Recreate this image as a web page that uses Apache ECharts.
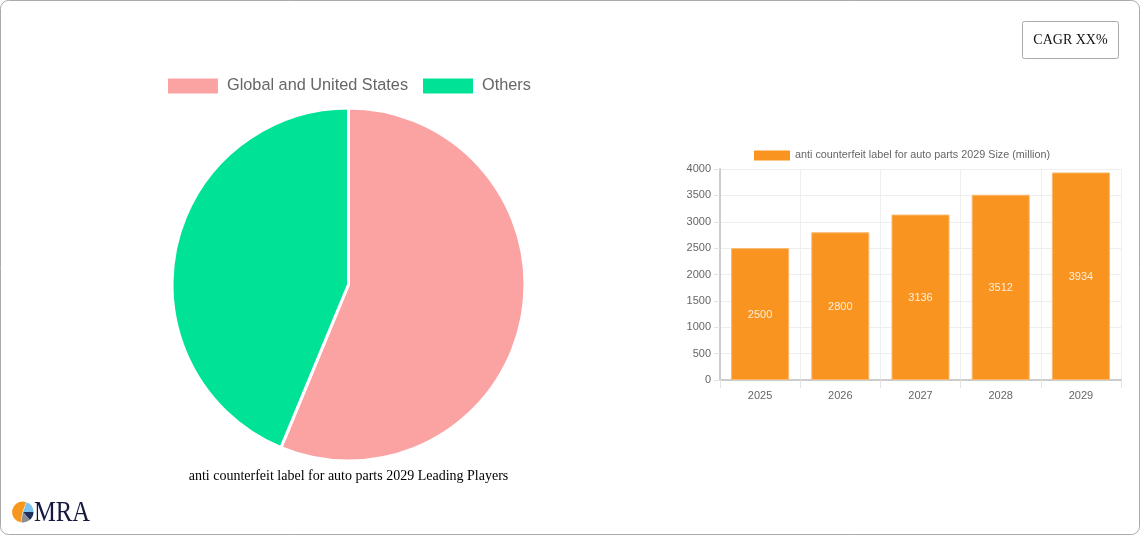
<!DOCTYPE html>
<html>
<head>
<meta charset="utf-8">
<style>
  html, body { margin: 0; padding: 0; background: #fff; }
  #main { width: 1140px; height: 535px; }
</style>
<script src="https://cdn.jsdelivr.net/npm/echarts@6/dist/echarts.min.js"></script>
</head>
<body>
<div id="main"></div>
<script>
const pieNames = ['Global and United States', 'Others'];
const pieValues = [56.25, 43.75];
const years = ['2025', '2026', '2027', '2028', '2029'];
const sizes = [2500, 2800, 3136, 3512, 3934];
const barName = 'anti counterfeit label for auto parts 2029 Size (million)';
const pieTitle = 'anti counterfeit label for auto parts 2029 Leading Players';

const chart = echarts.init(document.getElementById('main'), null, { renderer: 'canvas' });
const sans = '"Liberation Sans", Arial, sans-serif';
const serif = '"Liberation Serif", "Times New Roman", serif';
const rad = d => d * Math.PI / 180;

// small logo wedge, bottom left
function logoSector(from, to, color, cx, cy) {
  return {
    type: 'sector',
    shape: { cx: cx, cy: cy, r: 10.5, startAngle: rad(from), endAngle: rad(to) },
    style: { fill: color }
  };
}

chart.setOption({
  animation: false,
  title: {
    text: pieTitle,
    left: 348.5,
    top: 469,
    padding: 0,
    textAlign: 'center',
    textStyle: { fontFamily: serif, fontSize: 14, fontWeight: 'normal', color: '#000' }
  },
  legend: [
    {
      data: pieNames,
      left: 168,
      top: 78,
      padding: 0,
      icon: 'rect',
      itemWidth: 50,
      itemHeight: 15,
      itemGap: 15,
      itemStyle: { borderWidth: 0 },
      textStyle: { fontFamily: sans, fontSize: 16.3, color: '#666', padding: [0, 0, 0, 4] }
    },
    {
      data: [barName],
      left: 754,
      top: 150,
      padding: 0,
      icon: 'rect',
      itemWidth: 36,
      itemHeight: 10,
      itemStyle: { borderWidth: 0 },
      textStyle: { fontFamily: sans, fontSize: 10.8, color: '#666', padding: [4, 0, 0, 0] }
    }
  ],
  grid: { left: 720, top: 169, width: 401, height: 211 },
  xAxis: {
    type: 'category',
    data: years,
    axisLine: { lineStyle: { color: '#ccc', width: 2 } },
    axisTick: { show: true, length: 8, lineStyle: { color: '#e4e4e4' } },
    axisLabel: { fontFamily: sans, fontSize: 11, color: '#666', margin: 10 },
    splitLine: { show: true, lineStyle: { color: '#eee' } }
  },
  yAxis: {
    type: 'value',
    min: 0,
    max: 4000,
    interval: 500,
    axisLine: { show: true, lineStyle: { color: '#ccc', width: 2 } },
    axisTick: { show: true, length: 6, lineStyle: { color: '#e4e4e4' } },
    axisLabel: {
      fontFamily: sans,
      fontSize: 11,
      color: '#666',
      margin: 9,
      padding: [4, 0, 0, 0],
      formatter: v => String(v)
    },
    splitLine: { show: true, lineStyle: { color: '#eee' } }
  },
  series: [
    {
      type: 'pie',
      center: [348.5, 284.5],
      radius: [0, 176.5],
      startAngle: 90,
      clockwise: true,
      label: { show: false },
      labelLine: { show: false },
      itemStyle: { borderColor: '#fff', borderWidth: 3 },
      color: ['#fba3a3', '#00e396'],
      data: pieNames.map((n, i) => ({ name: n, value: pieValues[i] }))
    },
    {
      type: 'bar',
      name: barName,
      data: sizes,
      barWidth: 58,
      itemStyle: { color: '#f99420', borderColor: '#fbb76a', borderWidth: 1 },
      label: {
        show: true,
        position: 'inside',
        offset: [0, 1],
        fontFamily: sans,
        fontSize: 11,
        color: '#ffeedd'
      }
    }
  ],
  graphic: [
    // outer frame
    {
      type: 'rect',
      silent: true,
      shape: { x: 0.5, y: 0.5, width: 1139, height: 534, r: 8 },
      style: { fill: 'none', stroke: '#aaa', lineWidth: 1 }
    },
    // CAGR box
    {
      type: 'rect',
      shape: { x: 1022.5, y: 21.5, width: 96, height: 37, r: 2 },
      style: { fill: '#fff', stroke: '#aaa', lineWidth: 1 }
    },
    {
      type: 'text',
      x: 1070.5,
      y: 40,
      style: {
        text: 'CAGR XX%',
        font: '14px ' + serif,
        fill: '#111',
        textAlign: 'center',
        textVerticalAlign: 'middle'
      }
    },
    // logo
    logoSector(100, 290, '#f7971e', 22.5, 512),
    logoSector(-70, 0, '#7cc4ee', 23, 512),
    logoSector(0, 50, '#1f2f5c', 23, 512),
    logoSector(50, 100, '#8a8d93', 23, 512),
    {
      type: 'text',
      x: 34,
      y: 513,
      scaleX: 0.82,
      style: {
        text: 'MRA',
        font: '30px ' + serif,
        fill: '#16193f',
        textAlign: 'left',
        textVerticalAlign: 'middle'
      }
    }
  ]
});
</script>
</body>
</html>
